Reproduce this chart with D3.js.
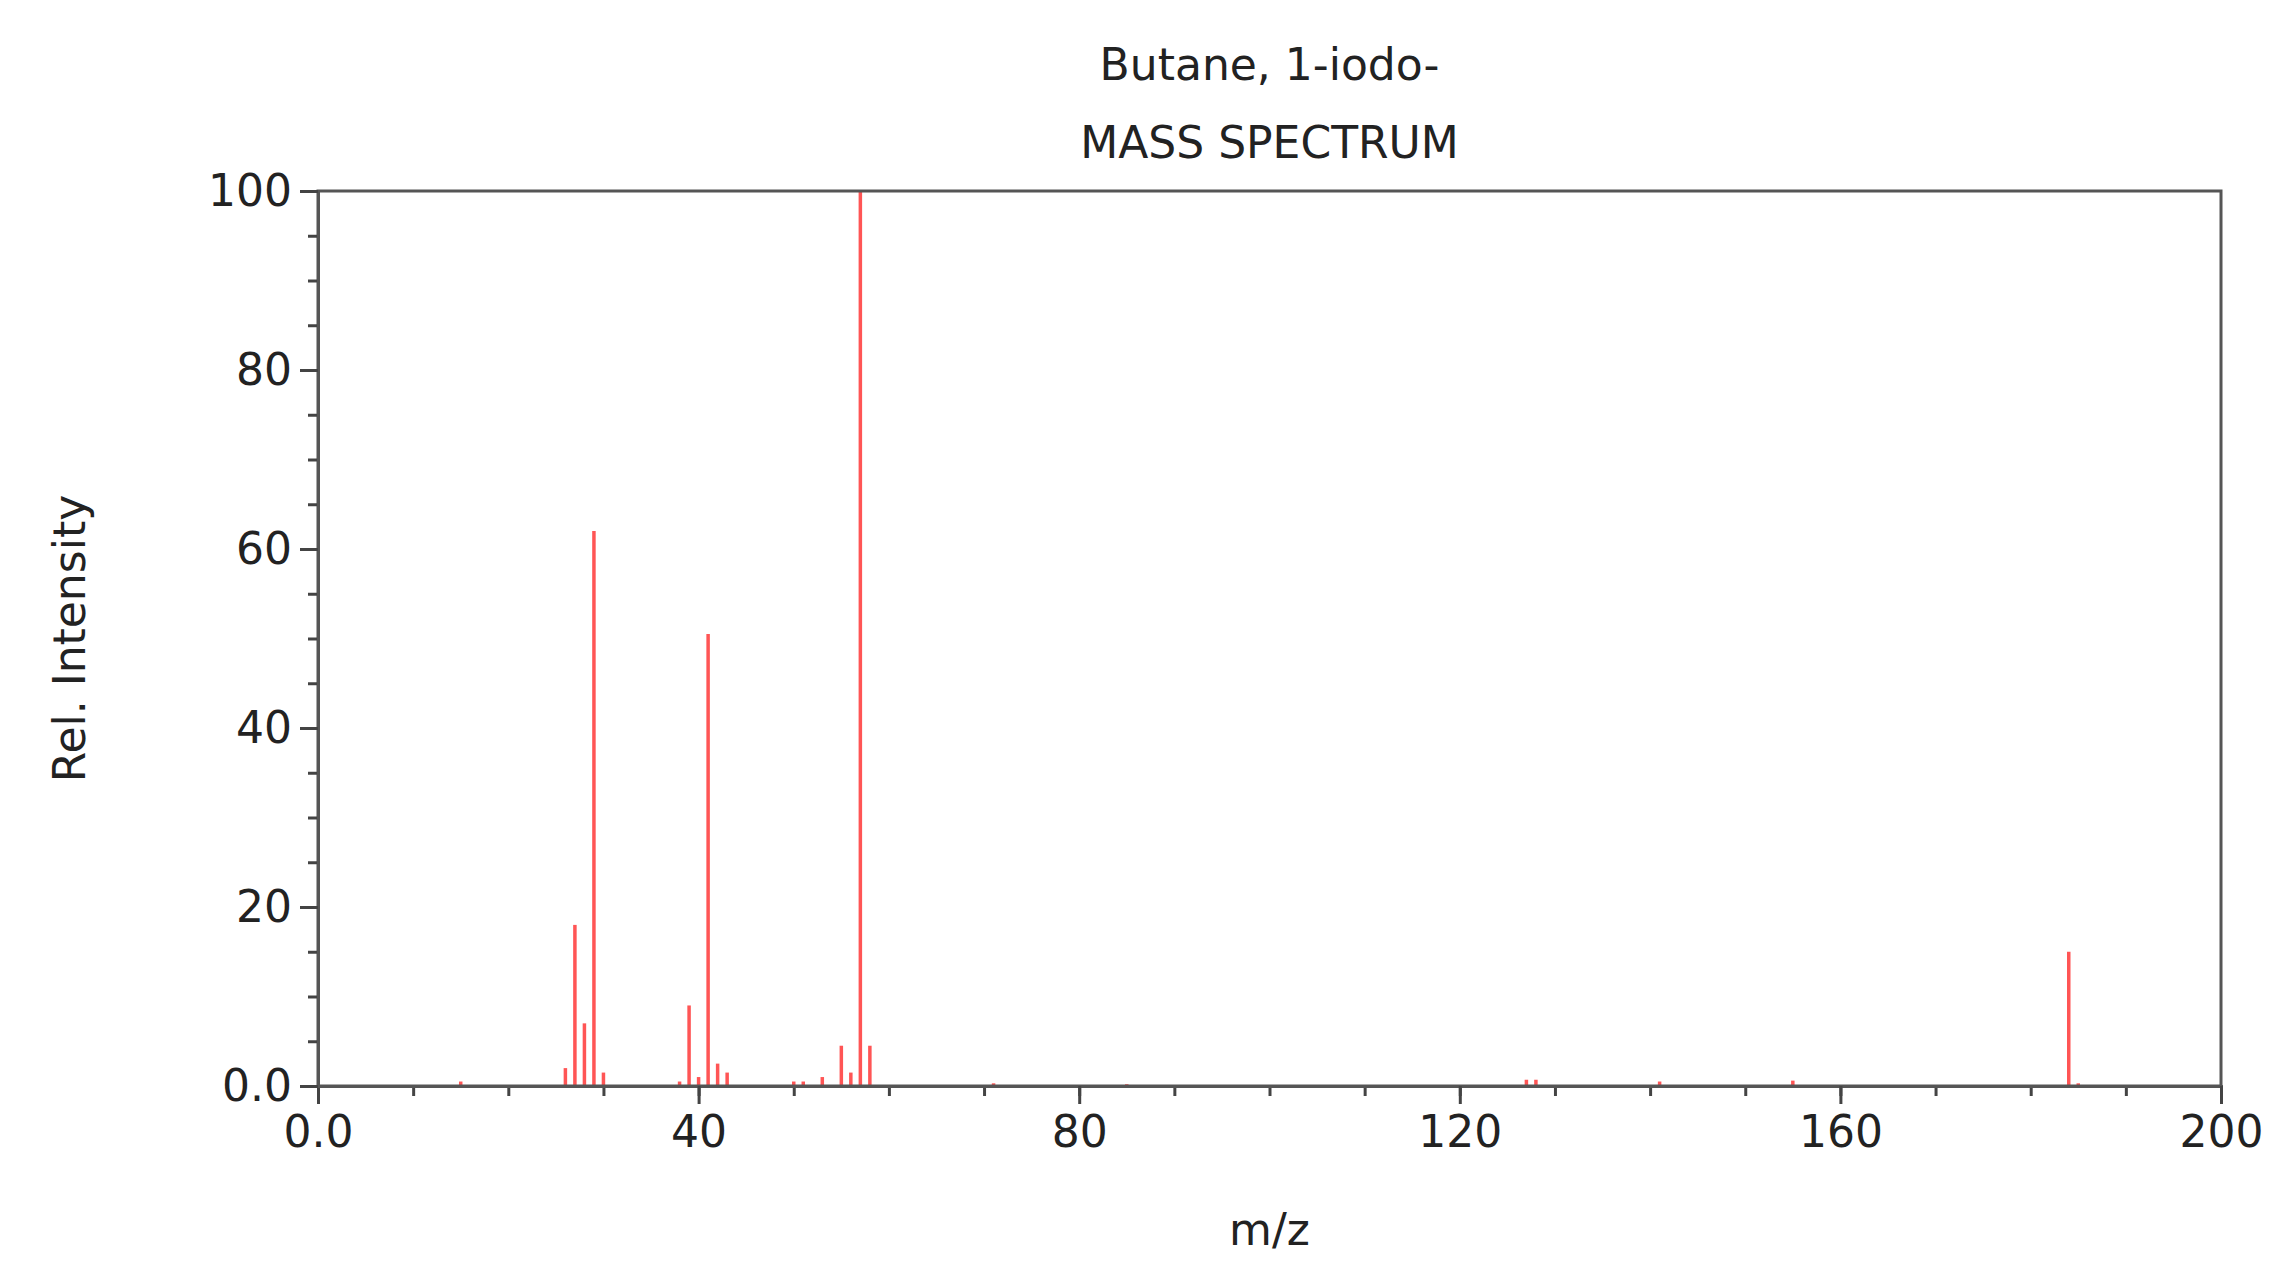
<!DOCTYPE html>
<html><head><meta charset="utf-8">
<script src="https://cdn.jsdelivr.net/npm/d3@7"></script>
<style>body{margin:0;background:#fff}svg{display:block}text{font-family:"DejaVu Sans",sans-serif;fill:#222}</style>
</head><body><svg id="c" width="2295" height="1288"></svg>
<script>
const titleLines = ["Butane, 1-iodo-", "MASS SPECTRUM"];
const mz =        [15, 26, 27, 28, 29, 30, 38, 39, 40, 41, 42, 43, 50, 51, 53, 55, 56, 57, 58, 71, 85, 127, 128, 141, 155, 184, 185];
const intensity = [0.5, 2, 18, 7, 62, 1.5, 0.5, 9, 1, 50.5, 2.5, 1.5, 0.5, 0.5, 1, 4.5, 1.5, 100, 4.5, 0.3, 0.2, 0.7, 0.7, 0.5, 0.6, 15, 0.3];
const xTicks = [0, 40, 80, 120, 160, 200];
const yTicks = [0, 20, 40, 60, 80, 100];

const svg = d3.select("#c");
const L = 318, R = 2221, T = 191, B = 1086;
const x = d3.scaleLinear().domain([0, 200]).range([L, R]);
const y = d3.scaleLinear().domain([0, 100]).range([B, T]);
const fmt = d => d === 0 ? "0.0" : String(d);

svg.selectAll("line.bar").data(mz).enter().append("line")
  .attr("x1", d => x(d)).attr("x2", d => x(d))
  .attr("y1", y(0)).attr("y2", (d, i) => y(intensity[i]))
  .attr("stroke", "#ff5555").attr("stroke-width", 3.5);

svg.append("rect").attr("x", L).attr("y", T).attr("width", R - L).attr("height", B - T)
  .attr("fill", "none").attr("stroke", "#555").attr("stroke-width", 3);

// minor ticks
const gxm = svg.append("g").attr("transform", `translate(0,${B})`)
  .call(d3.axisBottom(x).tickValues(d3.range(0, 201, 10)).tickSize(10).tickFormat(""));
const gx = svg.append("g").attr("transform", `translate(0,${B})`)
  .call(d3.axisBottom(x).tickValues(xTicks).tickSize(18).tickPadding(12).tickFormat(fmt));
const gym = svg.append("g").attr("transform", `translate(${L},0)`)
  .call(d3.axisLeft(y).tickValues(d3.range(0, 101, 5)).tickSize(10).tickFormat(""));
const gy = svg.append("g").attr("transform", `translate(${L},0)`)
  .call(d3.axisLeft(y).tickValues(yTicks).tickSize(18).tickPadding(8).tickFormat(fmt));
[gxm, gx, gym, gy].forEach(g => {
  g.select(".domain").attr("stroke", "#555").attr("stroke-width", 3);
  g.selectAll(".tick line").attr("stroke", "#444").attr("stroke-width", 3);
  g.selectAll("text").attr("font-size", 44).attr("fill", "#222").attr("font-family", "DejaVu Sans");
});

svg.selectAll("text.title").data(titleLines).enter().append("text")
  .attr("x", (L + R) / 2 + 0).attr("y", (d, i) => 80 + i * 78)
  .attr("text-anchor", "middle").attr("font-size", 44).text(d => d);

svg.append("text").attr("x", (L + R) / 2).attr("y", 1245)
  .attr("text-anchor", "middle").attr("font-size", 44).text("m/z");
svg.append("text").attr("transform", `translate(85,${(T + B) / 2 + 0}) rotate(-90)`)
  .attr("text-anchor", "middle").attr("font-size", 44).text("Rel. Intensity");
</script></body></html>
